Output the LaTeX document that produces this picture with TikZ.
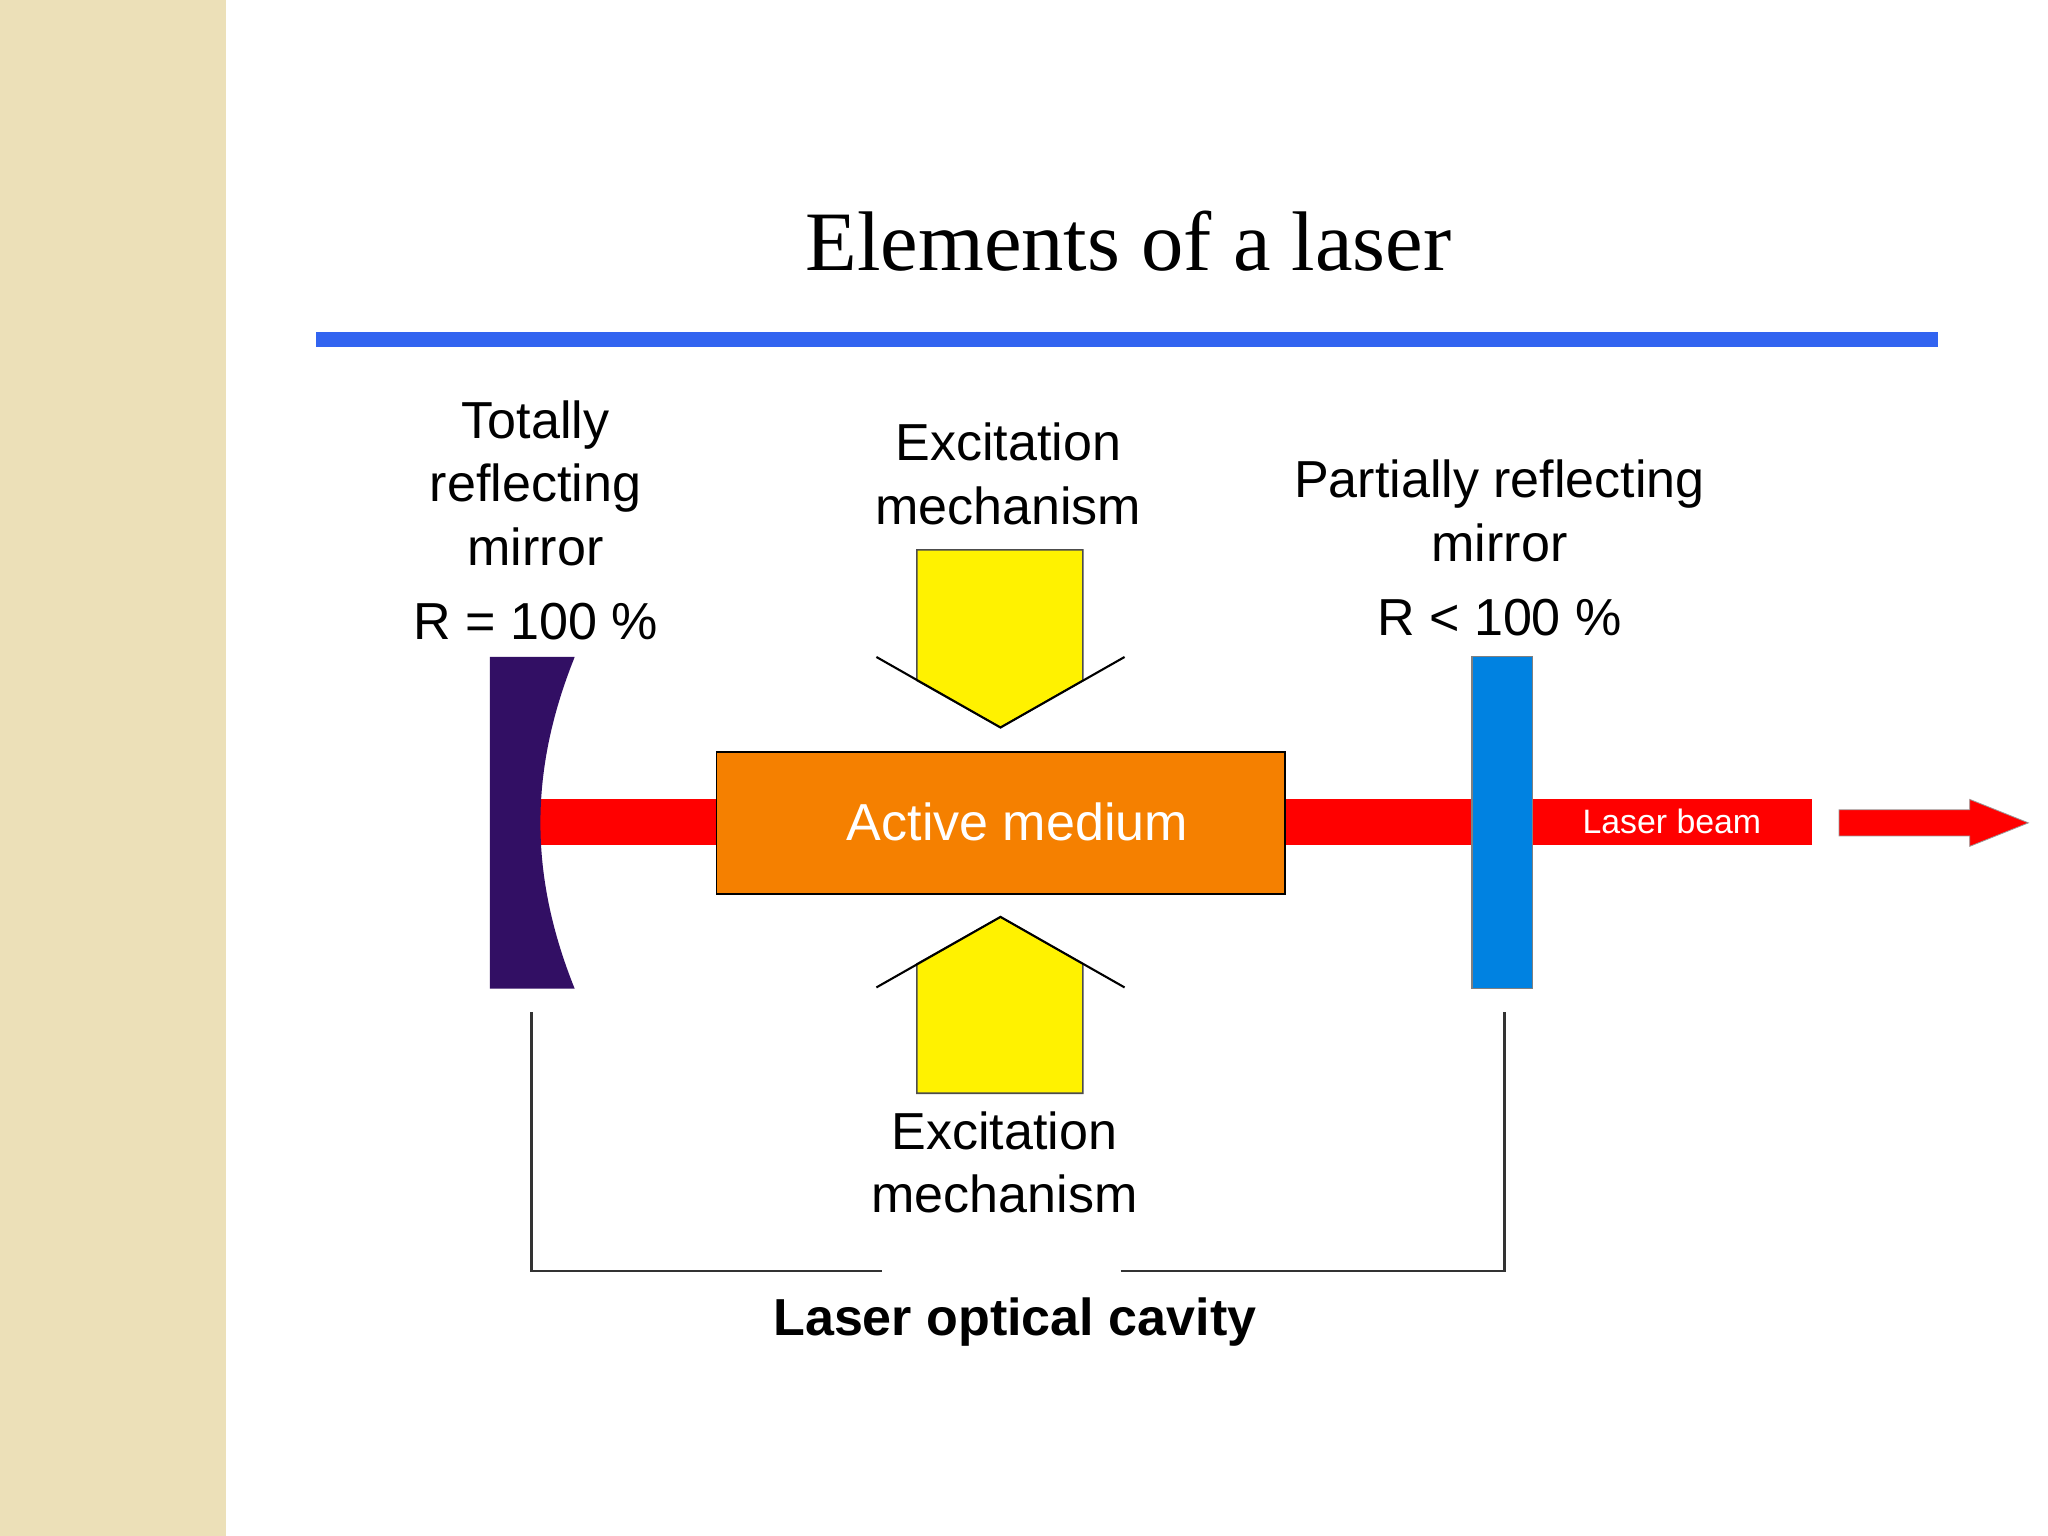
\documentclass[tikz,border=0pt]{standalone}
\usepackage{fontspec}
\setmainfont{Liberation Sans}
\newfontfamily\titlefont{Liberation Serif}
\begin{document}
\begin{tikzpicture}[x=0.5bp,y=-0.5bp,
  lbl/.style={align=center,font=\fontsize{20}{24.5}\selectfont,inner sep=0pt},
  yel/.style={fill=yellow,draw=black!70,line width=0.6bp}]
\useasboundingbox (0,0) rectangle (1568,1176);
\fill[white] (0,0) rectangle (1568,1176);
\fill[fill={rgb,255:red,236;green,224;blue,184}] (0,0) rectangle (173,1176);
\node[font=\titlefont\fontsize{32.5}{38}\selectfont,inner sep=0pt] (title) at (864,185) {Elements of a laser};
\fill[fill={rgb,255:red,50;green,100;blue,240}] (242,254) rectangle (1484,266);
% beam
\fill[red] (413,612) rectangle (1387,647);
\node[text=white,font=\fontsize{13}{15}\selectfont,inner sep=0pt] (lb) at (1280,629) {Laser beam};
\fill[red,draw=black!40,line width=0.3bp] (1408,620) -- (1508,620) -- (1508,612) -- (1553,630) -- (1508,648) -- (1508,640) -- (1408,640) -- cycle;
% left mirror
\fill[fill={rgb,255:red,50;green,15;blue,100}] (375,503) -- (440,503) .. controls (405,590) and (405,670) .. (440,757) -- (375,757) -- cycle;
% right mirror
\filldraw[fill={rgb,255:red,0;green,130;blue,225},draw=black!50,line width=0.4bp] (1127,503) rectangle (1173,757);
% active medium
\node[draw=black,line width=0.6bp,fill={rgb,255:red,245;green,128;blue,0},minimum width=217.5bp,minimum height=54.5bp,inner sep=0pt,anchor=north west] (am) at (548,575) {};
\node[text=white,font=\fontsize{20}{24}\selectfont,inner sep=0pt] (amt) at (779,629) {Active medium};
% excitation arrows
\filldraw[yel] (702,421) -- (829,421) -- (829,521) -- (766,557) -- (702,521) -- cycle;
\draw[black,line width=0.8bp] (671,503) -- (766,557) -- (861,503);
\filldraw[yel] (702,837) -- (829,837) -- (829,738) -- (766,702) -- (702,738) -- cycle;
\draw[black,line width=0.8bp] (671,756) -- (766,702) -- (861,756);
% labels
\node[lbl] (l1) at (410,370) {Totally\\reflecting\\mirror};
\node[lbl] (l1b) at (410,476) {R = 100 \%};
\node[lbl] (l2) at (772,363) {Excitation\\mechanism};
\node[lbl] (l3) at (1148,391) {Partially reflecting\\mirror};
\node[lbl] (l3b) at (1148,473) {R < 100 \%};
\node[lbl] (l4) at (769,890) {Excitation\\mechanism};
\node[lbl,font=\bfseries\fontsize{20}{24}\selectfont] (cav) at (777,1012) {Laser optical cavity};
% bracket
\draw[black!80,line width=1bp] (407,775) -- (407,973) -- (675,973);
\draw[black!80,line width=1bp] (858,973) -- (1152,973) -- (1152,775);
\end{tikzpicture}
\end{document}
